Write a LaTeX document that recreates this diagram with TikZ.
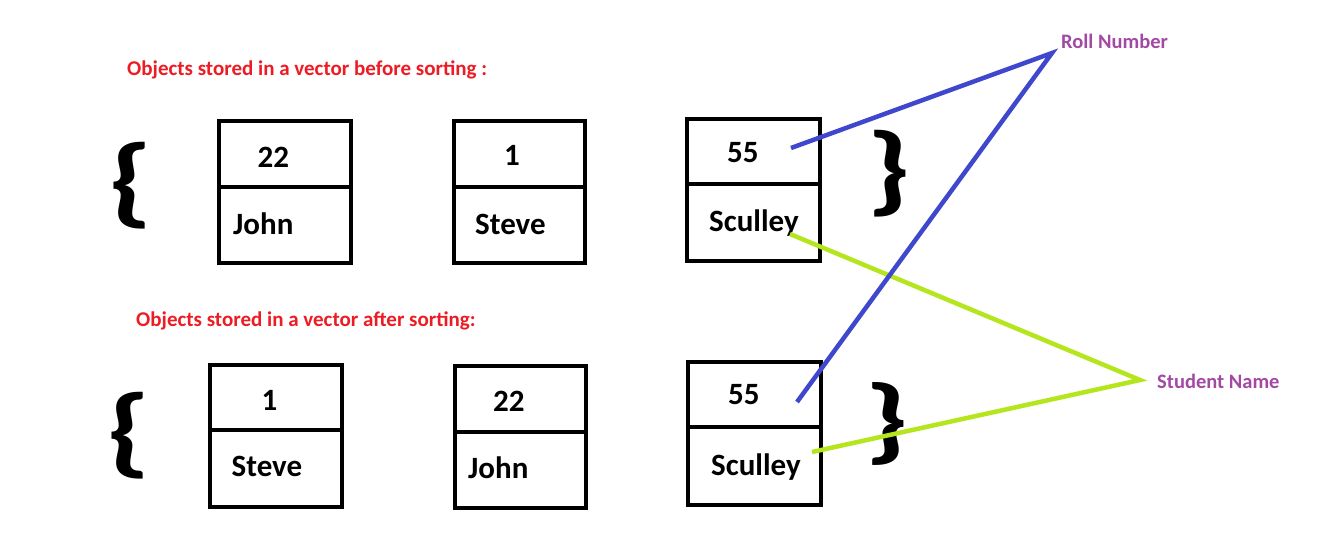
\documentclass[tikz,border=0pt]{standalone}
\usepackage{fontspec}
\setmainfont{Carlito}
\definecolor{pred}{HTML}{ED1C24}
\definecolor{ppurple}{HTML}{A349A4}
\definecolor{pblue}{HTML}{3F48CC}
\definecolor{plime}{HTML}{B5E61D}
\begin{document}
\begin{tikzpicture}[x=1pt,y=-1pt,
  cell/.style 2 args={draw=black,line width=4.5pt,minimum width=#1,minimum height=#2,inner sep=0pt,outer sep=0pt},
  val/.style={anchor=base west,inner sep=0pt,font=\fontsize{31}{31}\selectfont\bfseries},
  title/.style={anchor=base west,inner sep=0pt,text=pred,font=\fontsize{21}{21}\selectfont\bfseries},
  lbl/.style={anchor=base west,inner sep=0pt,text=ppurple,font=\fontsize{20.5}{20.5}\selectfont\bfseries},
  brace/.style={inner sep=0pt,font=\fontsize{90}{90}\selectfont\bfseries},
  pointer/.style={line width=4.5pt}
]
\useasboundingbox[fill=white] (0,0) rectangle (1344,558);
% titles
\node[title] (t1) at (127,75) {Objects stored in a vector before sorting :};
\node[title] (t2) at (136,326) {Objects stored in a vector after sorting:};
% braces
\node[brace] (lb1) at (131,186) {\scalebox{1.45}[1.1]{\{}};
\node[brace] (rb1) at (889,174) {\scalebox{1.45}[1.1]{\}}};
\node[brace] (lb2) at (129,436) {\scalebox{1.45}[1.1]{\{}};
\node[brace] (rb2) at (887,424) {\scalebox{1.45}[1.05]{\}}};
% top row cells
\node[cell={132pt}{66pt}] (a1) at (285,154) {};
\node[cell={132pt}{76pt}] (a1n) at (285,225) {};
\node[cell={131pt}{66pt}] (a2) at (519.5,154) {};
\node[cell={131pt}{76pt}] (a2n) at (519.5,225) {};
\node[cell={133pt}{65pt}] (a3) at (687,119) [anchor=north west] {};
\node[cell={133pt}{77pt}] (a3n) at (687,184) [anchor=north west] {};
% bottom row cells
\node[cell={132pt}{65pt}] (b1) at (210,365) [anchor=north west] {};
\node[cell={132pt}{77pt}] (b1n) at (210,430) [anchor=north west] {};
\node[cell={131pt}{66pt}] (b2) at (455,366) [anchor=north west] {};
\node[cell={131pt}{76pt}] (b2n) at (455,432) [anchor=north west] {};
\node[cell={133pt}{65pt}] (b3) at (688,362) [anchor=north west] {};
\node[cell={133pt}{78pt}] (b3n) at (688,427) [anchor=north west] {};
% values
\node[val] (v1) at (257.5,167) {22};
\node[val] (n1) at (233,234) {John};
\node[val] (v2) at (504,165.5) {1};
\node[val] (n2) at (475,234) {Steve};
\node[val] (v3) at (727,162) {55};
\node[val] (n3) at (709,231) {Sculley};
\node[val] (w1) at (261.5,410) {1};
\node[val] (m1) at (231.5,476.5) {Steve};
\node[val] (w2) at (493,411.5) {22};
\node[val] (m2) at (468,478) {John};
\node[val] (w3) at (728,404) {55};
\node[val] (m3) at (711,475) {Sculley};
% labels
\node[lbl] (rn) at (1061,48.3) {Roll Number};
\node[lbl] (sn) at (1157,388.3) {Student Name};
% pointer ends
\coordinate (rnv) at (1052,53);
\coordinate (snv) at (1140,380);
\coordinate (p1) at (791,148);
\coordinate (p2) at (797,402);
\coordinate (q1) at (790,234);
\coordinate (q2) at (812,452);
\draw[pointer,plime] (q1) -- (snv) -- (q2);
\draw[pointer,pblue] (p1) -- (rnv) -- (p2);
\end{tikzpicture}
\end{document}
